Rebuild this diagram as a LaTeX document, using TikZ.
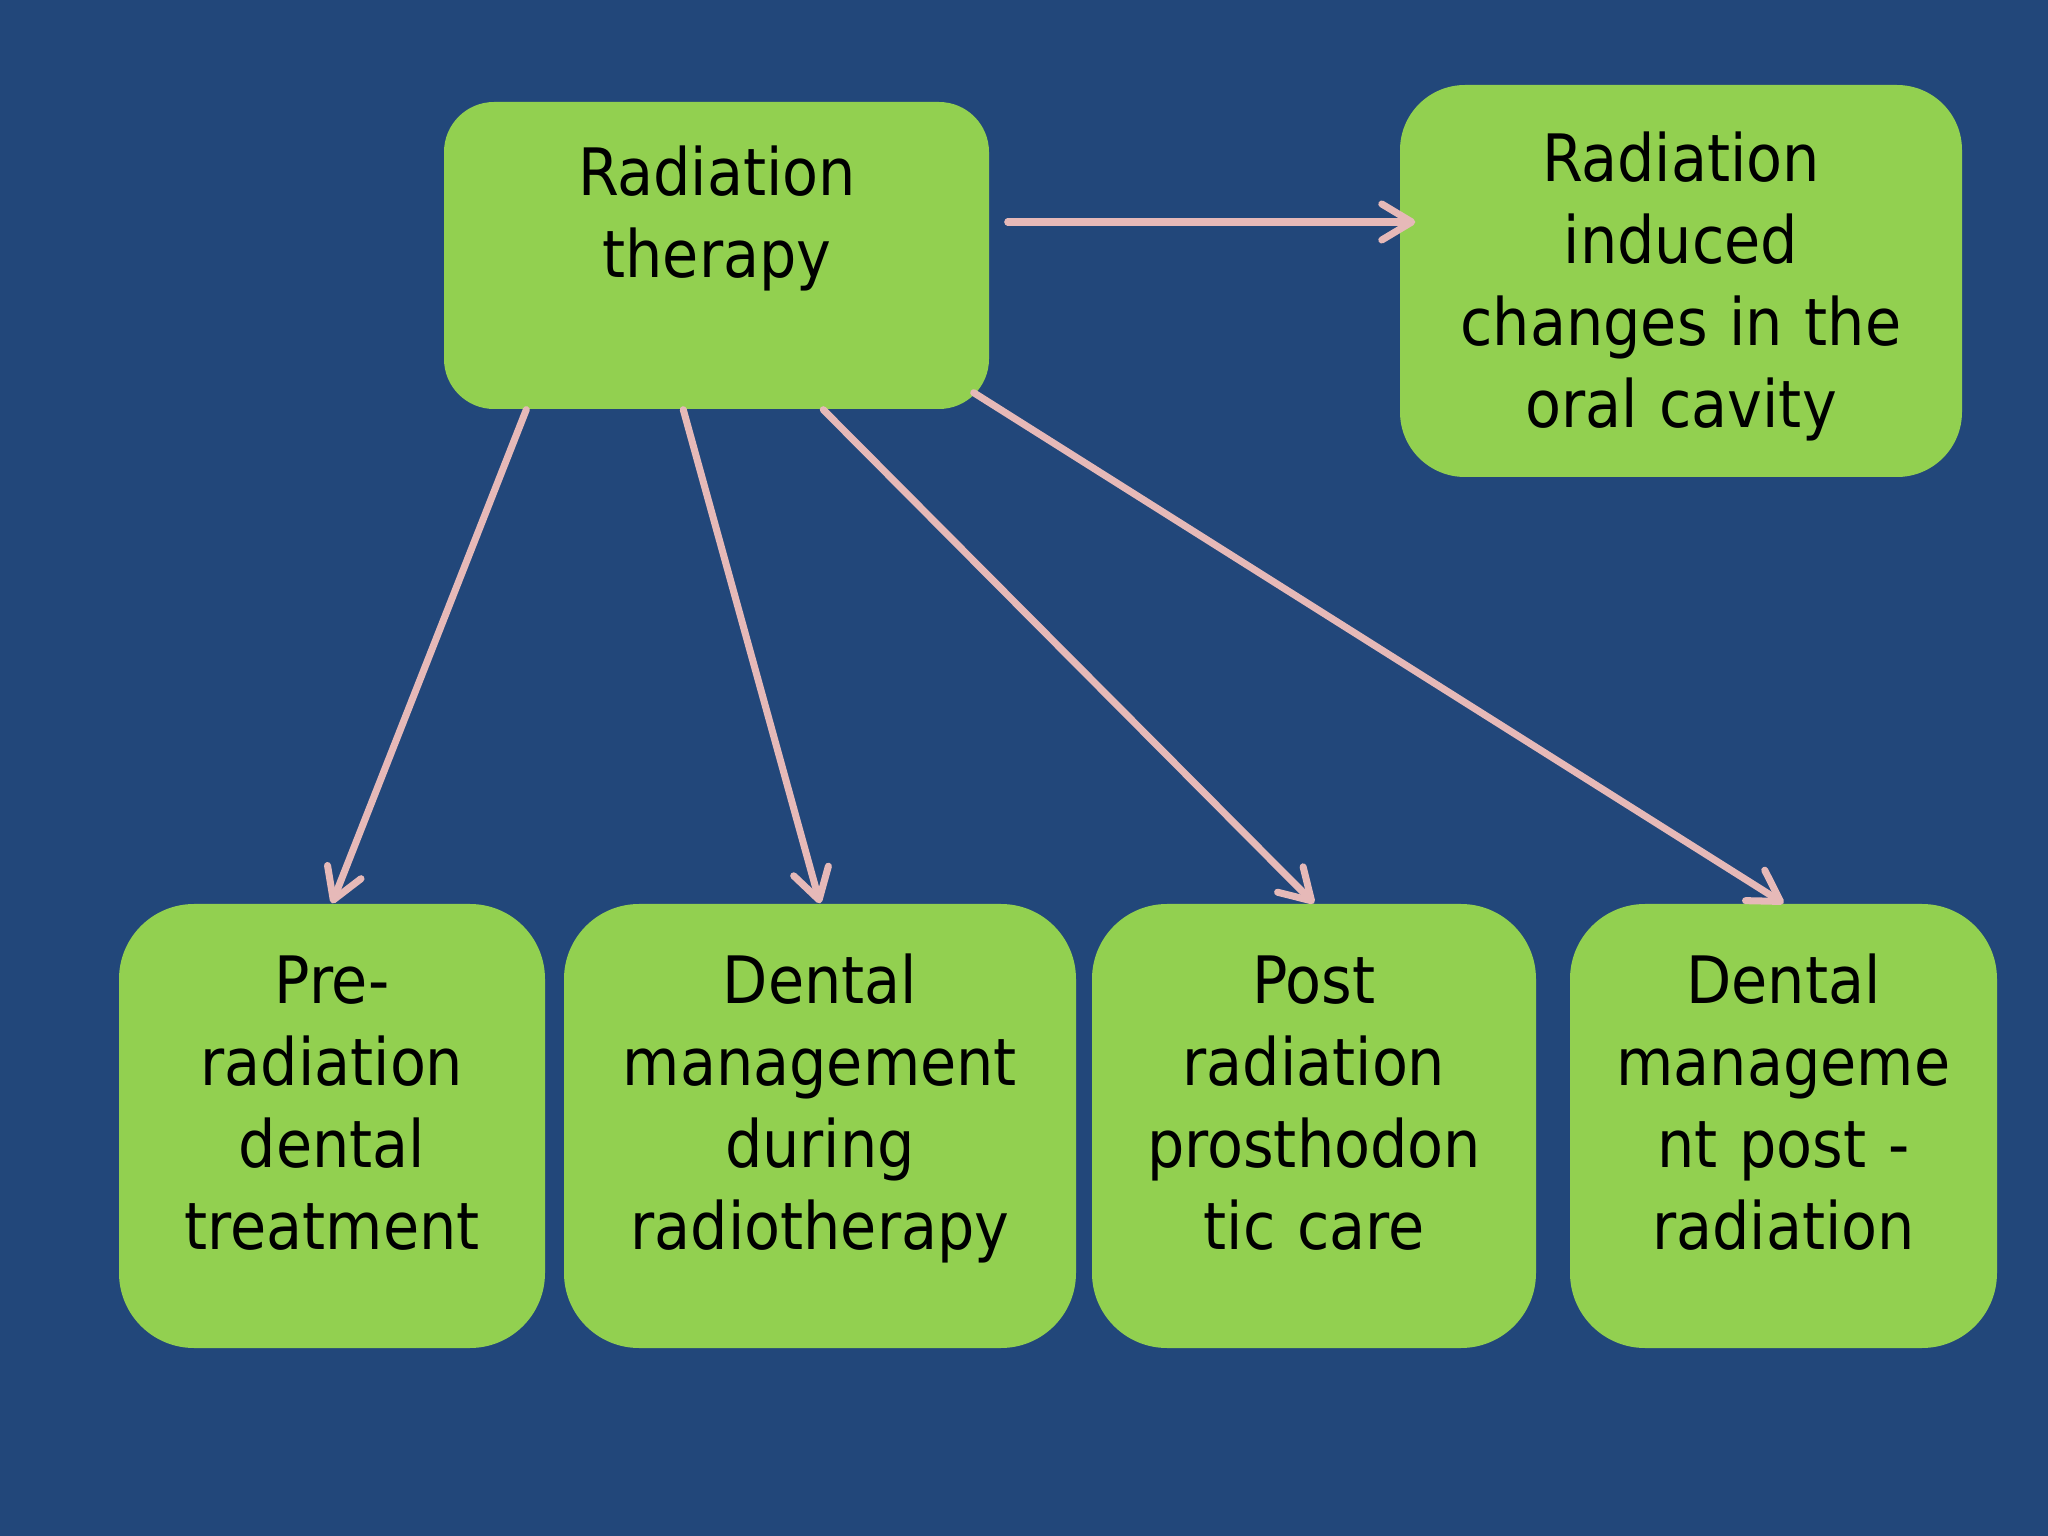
\documentclass[tikz,border=0pt]{standalone}
\usepackage{fontspec}
\setmainfont{DejaVu Sans Condensed}
\usetikzlibrary{arrows.meta,calc}
\definecolor{bgblue}{RGB}{34,71,122}
\definecolor{boxgreen}{RGB}{146,208,80}
\definecolor{arrpink}{RGB}{230,185,184}
\begin{document}
\begin{tikzpicture}[x=1cm,y=1cm,
  box/.style={fill=boxgreen, draw=none, inner sep=0pt},
  txt/.style={font=\fontsize{18.6pt}{23.3pt}\selectfont, text width=5.4cm, align=center, inner sep=0pt, anchor=base, text=black},
  arr/.style={draw=arrpink, line width=2pt, line cap=round, -{Straight Barb[length=0.3cm, width=0.36cm, round]}}]
\fill[bgblue] (0,0) rectangle (20.48,-15.36);
\useasboundingbox (0,0) rectangle (20.48,-15.36);
% top boxes
\node[box, rounded corners=0.5cm, minimum width=5.45cm, minimum height=3.07cm] (rt) at (7.165,-2.555) {};
\node[box, rounded corners=0.65cm, minimum width=5.62cm, minimum height=3.92cm] (ric) at (16.81,-2.81) {};
% bottom boxes
\node[box, rounded corners=0.75cm, minimum width=4.26cm, minimum height=4.44cm] (b1) at (3.32,-11.26) {};
\node[box, rounded corners=0.75cm, minimum width=5.12cm, minimum height=4.44cm] (b2) at (8.20,-11.26) {};
\node[box, rounded corners=0.75cm, minimum width=4.44cm, minimum height=4.44cm] (b3) at (13.14,-11.26) {};
\node[box, rounded corners=0.75cm, minimum width=4.27cm, minimum height=4.44cm] (b4) at (17.835,-11.26) {};
% texts
\node[txt] (rtt) at (7.17,-1.96) {Radiation\\therapy};
\node[txt] (rict) at (16.81,-1.82) {Radiation\\induced\\changes in the\\oral cavity};
\node[txt] (b1t) at (3.32,-10.035) {Pre-\\radiation\\dental\\treatment};
\node[txt] (b2t) at (8.20,-10.035) {Dental\\management\\during\\radiotherapy};
\node[txt] (b3t) at (13.14,-10.035) {Post\\radiation\\prosthodon\\tic care};
\node[txt] (b4t) at (17.835,-10.035) {Dental\\manageme\\nt post -\\radiation};
% connectors
\coordinate (hy) at (0,-2.22);
\draw[arr] ($(rt.east|-hy)+(0.18,0)$) -- ($(ric.west|-hy)+(0.16,0)$);
\draw[arr] ($(rt.south west)+(0.83,0)$) -- (b1.north);
\draw[arr] ($(rt.south west)+(2.40,0)$) -- (b2.north);
\draw[arr] ($(rt.south west)+(3.80,0)$) -- (b3.north);
\draw[arr] ($(rt.south east)+(-0.16,0.17)$) -- (b4.north);
\end{tikzpicture}
\end{document}
